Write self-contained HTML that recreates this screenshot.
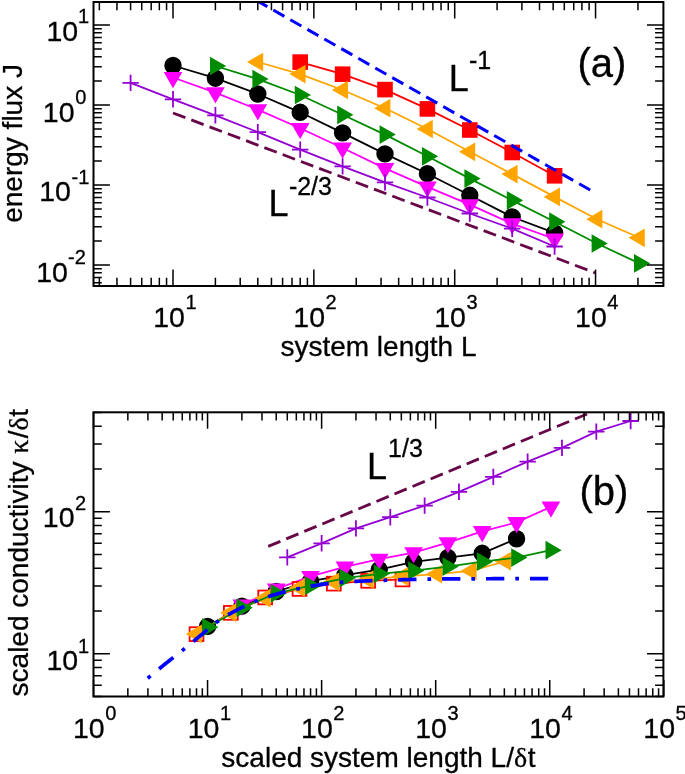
<!DOCTYPE html>
<html><head><meta charset="utf-8"><title>Energy flux and scaled conductivity</title>
<style>html,body{margin:0;padding:0;background:#fff}svg{display:block}text{font-family:"Liberation Sans",sans-serif;fill:#000;stroke:#000;stroke-width:0.3px}.sy{font-family:"Liberation Serif",serif}</style></head>
<body>
<svg width="685" height="774" viewBox="0 0 685 774">
<rect width="685" height="774" fill="#fff"/>
<defs><clipPath id="ca"><rect x="93.5" y="2" width="569.9" height="284"/></clipPath><clipPath id="cb"><rect x="93.5" y="412.3" width="569.9" height="284.2"/></clipPath></defs>
<g clip-path="url(#ca)">
<polyline points="173,65.5 215.4,78.2 257.8,94 300.2,112.3 342.6,132.9 385,153.9 427.4,173.7 469.8,195.3 512.2,217 554.6,232.9" fill="none" stroke="#000" stroke-width="1.8"/><circle cx="173" cy="65.5" r="7.8" fill="#000" stroke="#000" stroke-width="1.8"/><circle cx="215.4" cy="78.2" r="7.8" fill="#000" stroke="#000" stroke-width="1.8"/><circle cx="257.8" cy="94" r="7.8" fill="#000" stroke="#000" stroke-width="1.8"/><circle cx="300.2" cy="112.3" r="7.8" fill="#000" stroke="#000" stroke-width="1.8"/><circle cx="342.6" cy="132.9" r="7.8" fill="#000" stroke="#000" stroke-width="1.8"/><circle cx="385" cy="153.9" r="7.8" fill="#000" stroke="#000" stroke-width="1.8"/><circle cx="427.4" cy="173.7" r="7.8" fill="#000" stroke="#000" stroke-width="1.8"/><circle cx="469.8" cy="195.3" r="7.8" fill="#000" stroke="#000" stroke-width="1.8"/><circle cx="512.2" cy="217" r="7.8" fill="#000" stroke="#000" stroke-width="1.8"/><circle cx="554.6" cy="232.9" r="7.8" fill="#000" stroke="#000" stroke-width="1.8"/>
<polyline points="173,77.5 215.4,92.6 257.8,109.6 300.2,128.3 342.6,148 385,168.4 427.4,186.9 469.8,204.7 512.2,223.7 554.6,239" fill="none" stroke="#ff00ff" stroke-width="1.8"/><polygon points="173,86.51 165.2,73 180.8,73" fill="#ff00ff" stroke="#ff00ff" stroke-width="1.8"/><polygon points="215.4,101.61 207.6,88.1 223.2,88.1" fill="#ff00ff" stroke="#ff00ff" stroke-width="1.8"/><polygon points="257.8,118.61 250,105.1 265.6,105.1" fill="#ff00ff" stroke="#ff00ff" stroke-width="1.8"/><polygon points="300.2,137.31 292.4,123.8 308,123.8" fill="#ff00ff" stroke="#ff00ff" stroke-width="1.8"/><polygon points="342.6,157.01 334.8,143.5 350.4,143.5" fill="#ff00ff" stroke="#ff00ff" stroke-width="1.8"/><polygon points="385,177.41 377.2,163.9 392.8,163.9" fill="#ff00ff" stroke="#ff00ff" stroke-width="1.8"/><polygon points="427.4,195.91 419.6,182.4 435.2,182.4" fill="#ff00ff" stroke="#ff00ff" stroke-width="1.8"/><polygon points="469.8,213.71 462,200.2 477.6,200.2" fill="#ff00ff" stroke="#ff00ff" stroke-width="1.8"/><polygon points="512.2,232.71 504.4,219.2 520,219.2" fill="#ff00ff" stroke="#ff00ff" stroke-width="1.8"/><polygon points="554.6,248.01 546.8,234.5 562.4,234.5" fill="#ff00ff" stroke="#ff00ff" stroke-width="1.8"/>
<polyline points="130.6,82.9 173,99.3 215.4,115.3 257.8,132.1 300.2,149.6 342.6,166.4 385,182.4 427.4,197.5 469.8,213.5 512.2,228.7 554.6,246.5" fill="none" stroke="#9400d3" stroke-width="1.8"/><path d="M122.4 82.9H138.8M130.6 74.7V91.1" fill="none" stroke="#9400d3" stroke-width="1.8"/><path d="M164.8 99.3H181.2M173 91.1V107.5" fill="none" stroke="#9400d3" stroke-width="1.8"/><path d="M207.2 115.3H223.6M215.4 107.1V123.5" fill="none" stroke="#9400d3" stroke-width="1.8"/><path d="M249.6 132.1H266M257.8 123.9V140.3" fill="none" stroke="#9400d3" stroke-width="1.8"/><path d="M292 149.6H308.4M300.2 141.4V157.8" fill="none" stroke="#9400d3" stroke-width="1.8"/><path d="M334.4 166.4H350.8M342.6 158.2V174.6" fill="none" stroke="#9400d3" stroke-width="1.8"/><path d="M376.8 182.4H393.2M385 174.2V190.6" fill="none" stroke="#9400d3" stroke-width="1.8"/><path d="M419.2 197.5H435.6M427.4 189.3V205.7" fill="none" stroke="#9400d3" stroke-width="1.8"/><path d="M461.6 213.5H478M469.8 205.3V221.7" fill="none" stroke="#9400d3" stroke-width="1.8"/><path d="M504 228.7H520.4M512.2 220.5V236.9" fill="none" stroke="#9400d3" stroke-width="1.8"/><path d="M546.4 246.5H562.8M554.6 238.3V254.7" fill="none" stroke="#9400d3" stroke-width="1.8"/>
<polyline points="300.2,62.1 342.6,74.2 385,89.6 427.4,108.9 469.8,130 512.2,152.5 554.6,175.8" fill="none" stroke="#ff0000" stroke-width="1.8"/><rect x="293.3" y="55.2" width="13.8" height="13.8" fill="#ff0000" stroke="#ff0000" stroke-width="1.8"/><rect x="335.7" y="67.3" width="13.8" height="13.8" fill="#ff0000" stroke="#ff0000" stroke-width="1.8"/><rect x="378.1" y="82.7" width="13.8" height="13.8" fill="#ff0000" stroke="#ff0000" stroke-width="1.8"/><rect x="420.5" y="102" width="13.8" height="13.8" fill="#ff0000" stroke="#ff0000" stroke-width="1.8"/><rect x="462.9" y="123.1" width="13.8" height="13.8" fill="#ff0000" stroke="#ff0000" stroke-width="1.8"/><rect x="505.3" y="145.6" width="13.8" height="13.8" fill="#ff0000" stroke="#ff0000" stroke-width="1.8"/><rect x="547.7" y="168.9" width="13.8" height="13.8" fill="#ff0000" stroke="#ff0000" stroke-width="1.8"/>
<polyline points="257.8,62 300.2,74.1 342.6,90 385,108.2 427.4,129 469.8,151.8 512.2,174.1 554.6,196.9 597,219.2 639.4,237.8" fill="none" stroke="#ffa500" stroke-width="1.8"/><polygon points="248.79,62 262.3,54.2 262.3,69.8" fill="#ffa500" stroke="#ffa500" stroke-width="1.8"/><polygon points="291.19,74.1 304.7,66.3 304.7,81.9" fill="#ffa500" stroke="#ffa500" stroke-width="1.8"/><polygon points="333.59,90 347.1,82.2 347.1,97.8" fill="#ffa500" stroke="#ffa500" stroke-width="1.8"/><polygon points="375.99,108.2 389.5,100.4 389.5,116" fill="#ffa500" stroke="#ffa500" stroke-width="1.8"/><polygon points="418.39,129 431.9,121.2 431.9,136.8" fill="#ffa500" stroke="#ffa500" stroke-width="1.8"/><polygon points="460.79,151.8 474.3,144 474.3,159.6" fill="#ffa500" stroke="#ffa500" stroke-width="1.8"/><polygon points="503.19,174.1 516.7,166.3 516.7,181.9" fill="#ffa500" stroke="#ffa500" stroke-width="1.8"/><polygon points="545.59,196.9 559.1,189.1 559.1,204.7" fill="#ffa500" stroke="#ffa500" stroke-width="1.8"/><polygon points="587.99,219.2 601.5,211.4 601.5,227" fill="#ffa500" stroke="#ffa500" stroke-width="1.8"/><polygon points="630.39,237.8 643.9,230 643.9,245.6" fill="#ffa500" stroke="#ffa500" stroke-width="1.8"/>
<polyline points="215.4,66 257.8,79.1 300.2,95 342.6,114.8 385,134.6 427.4,156.3 469.8,178.6 512.2,200.4 554.6,221.7 597,243.5 639.4,263.4" fill="none" stroke="#008b00" stroke-width="1.8"/><polygon points="224.41,66 210.9,58.2 210.9,73.8" fill="#008b00" stroke="#008b00" stroke-width="1.8"/><polygon points="266.81,79.1 253.3,71.3 253.3,86.9" fill="#008b00" stroke="#008b00" stroke-width="1.8"/><polygon points="309.21,95 295.7,87.2 295.7,102.8" fill="#008b00" stroke="#008b00" stroke-width="1.8"/><polygon points="351.61,114.8 338.1,107 338.1,122.6" fill="#008b00" stroke="#008b00" stroke-width="1.8"/><polygon points="394.01,134.6 380.5,126.8 380.5,142.4" fill="#008b00" stroke="#008b00" stroke-width="1.8"/><polygon points="436.41,156.3 422.9,148.5 422.9,164.1" fill="#008b00" stroke="#008b00" stroke-width="1.8"/><polygon points="478.81,178.6 465.3,170.8 465.3,186.4" fill="#008b00" stroke="#008b00" stroke-width="1.8"/><polygon points="521.21,200.4 507.7,192.6 507.7,208.2" fill="#008b00" stroke="#008b00" stroke-width="1.8"/><polygon points="563.61,221.7 550.1,213.9 550.1,229.5" fill="#008b00" stroke="#008b00" stroke-width="1.8"/><polygon points="606.01,243.5 592.5,235.7 592.5,251.3" fill="#008b00" stroke="#008b00" stroke-width="1.8"/><polygon points="648.41,263.4 634.9,255.6 634.9,271.2" fill="#008b00" stroke="#008b00" stroke-width="1.8"/>
<path d="M590.2 190.03L250 -3.2" stroke="#0000ff" stroke-width="3.0" stroke-dasharray="12.7 6.84" fill="none"/>
<path d="M173 113L595.6 273.02" stroke="#670748" stroke-width="2.8" stroke-dasharray="13.2 6.34" fill="none"/>
</g>
<path d="M99.35 286v-8.3M99.35 2v8.3M116.95 286v-8.3M116.95 2v8.3M130.6 286v-8.3M130.6 2v8.3M141.75 286v-8.3M141.75 2v8.3M151.18 286v-8.3M151.18 2v8.3M159.35 286v-8.3M159.35 2v8.3M166.56 286v-8.3M166.56 2v8.3M173 286v-16.4M173 2v16.4M215.4 286v-8.3M215.4 2v8.3M240.2 286v-8.3M240.2 2v8.3M257.8 286v-8.3M257.8 2v8.3M271.45 286v-8.3M271.45 2v8.3M282.6 286v-8.3M282.6 2v8.3M292.03 286v-8.3M292.03 2v8.3M300.2 286v-8.3M300.2 2v8.3M307.41 286v-8.3M307.41 2v8.3M313.85 286v-16.4M313.85 2v16.4M356.25 286v-8.3M356.25 2v8.3M381.05 286v-8.3M381.05 2v8.3M398.65 286v-8.3M398.65 2v8.3M412.3 286v-8.3M412.3 2v8.3M423.45 286v-8.3M423.45 2v8.3M432.88 286v-8.3M432.88 2v8.3M441.05 286v-8.3M441.05 2v8.3M448.26 286v-8.3M448.26 2v8.3M454.7 286v-16.4M454.7 2v16.4M497.1 286v-8.3M497.1 2v8.3M521.9 286v-8.3M521.9 2v8.3M539.5 286v-8.3M539.5 2v8.3M553.15 286v-8.3M553.15 2v8.3M564.3 286v-8.3M564.3 2v8.3M573.73 286v-8.3M573.73 2v8.3M581.9 286v-8.3M581.9 2v8.3M589.11 286v-8.3M589.11 2v8.3M595.55 286v-16.4M595.55 2v16.4M637.95 286v-8.3M637.95 2v8.3M93.5 282.75h8.3M663.4 282.75h-8.3M93.5 277.39h8.3M663.4 277.39h-8.3M93.5 272.75h8.3M663.4 272.75h-8.3M93.5 268.66h8.3M663.4 268.66h-8.3M93.5 265h16.4M663.4 265h-16.4M93.5 240.92h8.3M663.4 240.92h-8.3M93.5 226.83h8.3M663.4 226.83h-8.3M93.5 216.84h8.3M663.4 216.84h-8.3M93.5 209.08h8.3M663.4 209.08h-8.3M93.5 202.75h8.3M663.4 202.75h-8.3M93.5 197.39h8.3M663.4 197.39h-8.3M93.5 192.75h8.3M663.4 192.75h-8.3M93.5 188.66h8.3M663.4 188.66h-8.3M93.5 185h16.4M663.4 185h-16.4M93.5 160.92h8.3M663.4 160.92h-8.3M93.5 146.83h8.3M663.4 146.83h-8.3M93.5 136.84h8.3M663.4 136.84h-8.3M93.5 129.08h8.3M663.4 129.08h-8.3M93.5 122.75h8.3M663.4 122.75h-8.3M93.5 117.39h8.3M663.4 117.39h-8.3M93.5 112.75h8.3M663.4 112.75h-8.3M93.5 108.66h8.3M663.4 108.66h-8.3M93.5 105h16.4M663.4 105h-16.4M93.5 80.92h8.3M663.4 80.92h-8.3M93.5 66.83h8.3M663.4 66.83h-8.3M93.5 56.84h8.3M663.4 56.84h-8.3M93.5 49.08h8.3M663.4 49.08h-8.3M93.5 42.75h8.3M663.4 42.75h-8.3M93.5 37.39h8.3M663.4 37.39h-8.3M93.5 32.75h8.3M663.4 32.75h-8.3M93.5 28.66h8.3M663.4 28.66h-8.3M93.5 25h16.4M663.4 25h-16.4" stroke="#000" stroke-width="1.5" fill="none"/>
<rect x="93.5" y="2" width="569.9" height="284" fill="none" stroke="#000" stroke-width="2"/>
<text x="153.2" y="327" font-size="28.5">10<tspan x="185.4" y="309.2" font-size="20">1</tspan></text>
<text x="293.35" y="327" font-size="28.5">10<tspan x="325.55" y="309.2" font-size="20">2</tspan></text>
<text x="434.2" y="327" font-size="28.5">10<tspan x="466.4" y="309.2" font-size="20">3</tspan></text>
<text x="575.05" y="327" font-size="28.5">10<tspan x="607.25" y="309.2" font-size="20">4</tspan></text>
<text x="46.4" y="41" font-size="28.5">10<tspan x="78.1" y="23.2" font-size="20">1</tspan></text>
<text x="42.8" y="121.5" font-size="28.5">10<tspan x="75.2" y="103.7" font-size="20">0</tspan></text>
<text x="39.2" y="201.3" font-size="28.5">10<tspan x="71.6" y="183.5" font-size="20">-1</tspan></text>
<text x="36.2" y="282" font-size="28.5">10<tspan x="68.1" y="264.2" font-size="20">-2</tspan></text>
<text x="378.45" y="355.5" font-size="28" text-anchor="middle">system length L</text>
<text transform="translate(21.5 143.4) rotate(-90)" font-size="28" text-anchor="middle">energy flux J</text>
<text x="448.7" y="90.6" font-size="36">L<tspan x="469" y="68.7" font-size="25">-1</tspan></text>
<text x="268.4" y="216.2" font-size="36">L<tspan x="288.9" y="194.6" font-size="25">-2/3</tspan></text>
<text x="577.5" y="77.2" font-size="40">(a)</text>
<g clip-path="url(#cb)">
<polyline points="207.56,626.41 241.9,606.2 276.23,591.48 310.57,581.21 344.9,575.03 379.24,569.55 413.57,561.95 447.91,557.54 482.24,553.31 516.58,538.77" fill="none" stroke="#000" stroke-width="1.8"/><circle cx="207.56" cy="626.41" r="7.8" fill="#000" stroke="#000" stroke-width="1.8"/><circle cx="241.9" cy="606.2" r="7.8" fill="#000" stroke="#000" stroke-width="1.8"/><circle cx="276.23" cy="591.48" r="7.8" fill="#000" stroke="#000" stroke-width="1.8"/><circle cx="310.57" cy="581.21" r="7.8" fill="#000" stroke="#000" stroke-width="1.8"/><circle cx="344.9" cy="575.03" r="7.8" fill="#000" stroke="#000" stroke-width="1.8"/><circle cx="379.24" cy="569.55" r="7.8" fill="#000" stroke="#000" stroke-width="1.8"/><circle cx="413.57" cy="561.95" r="7.8" fill="#000" stroke="#000" stroke-width="1.8"/><circle cx="447.91" cy="557.54" r="7.8" fill="#000" stroke="#000" stroke-width="1.8"/><circle cx="482.24" cy="553.31" r="7.8" fill="#000" stroke="#000" stroke-width="1.8"/><circle cx="516.58" cy="538.77" r="7.8" fill="#000" stroke="#000" stroke-width="1.8"/>
<polyline points="241.9,604.95 276.23,589 310.57,576.42 344.9,566.86 379.24,559.07 413.57,552.53 447.91,542.62 482.24,531.46 516.58,522.43 550.91,506.83" fill="none" stroke="#ff00ff" stroke-width="1.8"/><polygon points="241.9,613.96 234.1,600.45 249.7,600.45" fill="#ff00ff" stroke="#ff00ff" stroke-width="1.8"/><polygon points="276.23,598 268.43,584.49 284.03,584.49" fill="#ff00ff" stroke="#ff00ff" stroke-width="1.8"/><polygon points="310.57,585.42 302.77,571.91 318.37,571.91" fill="#ff00ff" stroke="#ff00ff" stroke-width="1.8"/><polygon points="344.9,575.86 337.1,562.35 352.7,562.35" fill="#ff00ff" stroke="#ff00ff" stroke-width="1.8"/><polygon points="379.24,568.08 371.44,554.57 387.04,554.57" fill="#ff00ff" stroke="#ff00ff" stroke-width="1.8"/><polygon points="413.57,561.54 405.77,548.03 421.37,548.03" fill="#ff00ff" stroke="#ff00ff" stroke-width="1.8"/><polygon points="447.91,551.62 440.11,538.11 455.71,538.11" fill="#ff00ff" stroke="#ff00ff" stroke-width="1.8"/><polygon points="482.24,540.46 474.44,526.95 490.04,526.95" fill="#ff00ff" stroke="#ff00ff" stroke-width="1.8"/><polygon points="516.58,531.44 508.78,517.93 524.38,517.93" fill="#ff00ff" stroke="#ff00ff" stroke-width="1.8"/><polygon points="550.91,515.84 543.11,502.33 558.71,502.33" fill="#ff00ff" stroke="#ff00ff" stroke-width="1.8"/>
<polyline points="287.28,557.4 321.62,543.3 355.96,528.4 390.29,517.2 424.63,505.6 458.96,491.8 493.3,476.9 527.63,461.6 561.97,447.9 596.3,431.6 630.64,421" fill="none" stroke="#9400d3" stroke-width="1.8"/><path d="M279.08 557.4H295.48M287.28 549.2V565.6" fill="none" stroke="#9400d3" stroke-width="1.8"/><path d="M313.42 543.3H329.82M321.62 535.1V551.5" fill="none" stroke="#9400d3" stroke-width="1.8"/><path d="M347.76 528.4H364.16M355.96 520.2V536.6" fill="none" stroke="#9400d3" stroke-width="1.8"/><path d="M382.09 517.2H398.49M390.29 509V525.4" fill="none" stroke="#9400d3" stroke-width="1.8"/><path d="M416.43 505.6H432.83M424.63 497.4V513.8" fill="none" stroke="#9400d3" stroke-width="1.8"/><path d="M450.76 491.8H467.16M458.96 483.6V500" fill="none" stroke="#9400d3" stroke-width="1.8"/><path d="M485.1 476.9H501.5M493.3 468.7V485.1" fill="none" stroke="#9400d3" stroke-width="1.8"/><path d="M519.43 461.6H535.83M527.63 453.4V469.8" fill="none" stroke="#9400d3" stroke-width="1.8"/><path d="M553.77 447.9H570.17M561.97 439.7V456.1" fill="none" stroke="#9400d3" stroke-width="1.8"/><path d="M588.1 431.6H604.5M596.3 423.4V439.8" fill="none" stroke="#9400d3" stroke-width="1.8"/><path d="M622.44 421H638.84M630.64 412.8V429.2" fill="none" stroke="#9400d3" stroke-width="1.8"/>
<polyline points="196.51,634.15 230.84,612.86 265.18,597.44 299.51,588.95 333.85,583.65 368.18,580.84 402.52,579.45" fill="none" stroke="#ff0000" stroke-width="1.8"/><rect x="189.61" y="627.25" width="13.8" height="13.8" fill="none" stroke="#ff0000" stroke-width="1.8"/><rect x="223.94" y="605.96" width="13.8" height="13.8" fill="none" stroke="#ff0000" stroke-width="1.8"/><rect x="258.28" y="590.54" width="13.8" height="13.8" fill="none" stroke="#ff0000" stroke-width="1.8"/><rect x="292.61" y="582.05" width="13.8" height="13.8" fill="none" stroke="#ff0000" stroke-width="1.8"/><rect x="326.95" y="576.75" width="13.8" height="13.8" fill="none" stroke="#ff0000" stroke-width="1.8"/><rect x="361.28" y="573.94" width="13.8" height="13.8" fill="none" stroke="#ff0000" stroke-width="1.8"/><rect x="395.62" y="572.55" width="13.8" height="13.8" fill="none" stroke="#ff0000" stroke-width="1.8"/>
<polyline points="196.51,633.97 230.84,612.68 265.18,598.15 299.51,587.7 333.85,581.87 368.18,579.59 402.52,576.43 436.85,574.15 471.19,570.98 505.53,561.25" fill="none" stroke="#ffa500" stroke-width="1.8"/><polygon points="187.5,633.97 201.01,626.17 201.01,641.77" fill="#ffa500" stroke="#ffa500" stroke-width="1.8"/><polygon points="221.84,612.68 235.35,604.88 235.35,620.48" fill="#ffa500" stroke="#ffa500" stroke-width="1.8"/><polygon points="256.17,598.15 269.68,590.35 269.68,605.95" fill="#ffa500" stroke="#ffa500" stroke-width="1.8"/><polygon points="290.51,587.7 304.02,579.9 304.02,595.5" fill="#ffa500" stroke="#ffa500" stroke-width="1.8"/><polygon points="324.84,581.87 338.35,574.07 338.35,589.67" fill="#ffa500" stroke="#ffa500" stroke-width="1.8"/><polygon points="359.18,579.59 372.69,571.79 372.69,587.39" fill="#ffa500" stroke="#ffa500" stroke-width="1.8"/><polygon points="393.51,576.43 407.02,568.63 407.02,584.23" fill="#ffa500" stroke="#ffa500" stroke-width="1.8"/><polygon points="427.85,574.15 441.36,566.35 441.36,581.95" fill="#ffa500" stroke="#ffa500" stroke-width="1.8"/><polygon points="462.18,570.98 475.69,563.18 475.69,578.78" fill="#ffa500" stroke="#ffa500" stroke-width="1.8"/><polygon points="496.52,561.25 510.03,553.45 510.03,569.05" fill="#ffa500" stroke="#ffa500" stroke-width="1.8"/>
<polyline points="207.56,627.3 241.9,607.8 276.23,593.26 310.57,585.65 344.9,578.05 379.24,573.82 413.57,570.65 447.91,566.6 482.24,561.65 516.58,557.6 550.91,550.17" fill="none" stroke="#008b00" stroke-width="1.8"/><polygon points="216.57,627.3 203.06,619.5 203.06,635.1" fill="#008b00" stroke="#008b00" stroke-width="1.8"/><polygon points="250.9,607.8 237.39,600 237.39,615.6" fill="#008b00" stroke="#008b00" stroke-width="1.8"/><polygon points="285.24,593.26 271.73,585.46 271.73,601.06" fill="#008b00" stroke="#008b00" stroke-width="1.8"/><polygon points="319.57,585.65 306.06,577.85 306.06,593.45" fill="#008b00" stroke="#008b00" stroke-width="1.8"/><polygon points="353.91,578.05 340.4,570.25 340.4,585.85" fill="#008b00" stroke="#008b00" stroke-width="1.8"/><polygon points="388.24,573.82 374.73,566.02 374.73,581.62" fill="#008b00" stroke="#008b00" stroke-width="1.8"/><polygon points="422.58,570.65 409.07,562.85 409.07,578.45" fill="#008b00" stroke="#008b00" stroke-width="1.8"/><polygon points="456.92,566.6 443.41,558.8 443.41,574.4" fill="#008b00" stroke="#008b00" stroke-width="1.8"/><polygon points="491.25,561.65 477.74,553.85 477.74,569.45" fill="#008b00" stroke="#008b00" stroke-width="1.8"/><polygon points="525.59,557.6 512.08,549.8 512.08,565.4" fill="#008b00" stroke="#008b00" stroke-width="1.8"/><polygon points="559.92,550.17 546.41,542.37 546.41,557.97" fill="#008b00" stroke="#008b00" stroke-width="1.8"/>
<path d="M268.2 546.4L587.2 413.93" stroke="#670748" stroke-width="2.8" stroke-dasharray="13.2 6.34" fill="none"/>
<polyline points="147.7,678.2 148.59,677.48 149.7,676.57 151.01,675.49 152.48,674.29 154.07,672.99 155.76,671.61 157.51,670.18 159.29,668.73 161.06,667.29 162.79,665.89 164.45,664.55 166,663.3 167.48,662.12 168.96,660.95 170.42,659.8 171.88,658.66 173.33,657.53 174.78,656.4 176.22,655.28 177.66,654.15 179.09,653.02 180.53,651.89 181.96,650.75 183.4,649.6 184.84,648.44 186.27,647.27 187.7,646.1 189.12,644.93 190.55,643.75 191.97,642.57 193.39,641.39 194.81,640.21 196.23,639.03 197.65,637.85 199.08,636.67 200.5,635.5 201.92,634.32 203.33,633.13 204.74,631.92 206.15,630.71 207.56,629.51 208.97,628.31 210.38,627.12 211.8,625.94 213.23,624.79 214.67,623.66 216.13,622.56 217.6,621.5 219.08,620.47 220.57,619.48 222.06,618.51 223.56,617.56 225.07,616.63 226.59,615.73 228.12,614.83 229.66,613.95 231.22,613.08 232.8,612.22 234.39,611.36 236,610.5 237.63,609.64 239.3,608.79 240.98,607.94 242.68,607.1 244.39,606.26 246.12,605.44 247.85,604.64 249.59,603.85 251.33,603.08 253.06,602.33 254.78,601.6 256.5,600.9 258.21,600.23 259.91,599.58 261.6,598.95 263.3,598.34 265,597.75 266.69,597.18 268.39,596.62 270.1,596.08 271.81,595.55 273.53,595.03 275.26,594.51 277,594 278.75,593.5 280.51,593.01 282.28,592.53 284.06,592.07 285.84,591.61 287.63,591.17 289.42,590.74 291.22,590.31 293.01,589.9 294.81,589.49 296.61,589.09 298.4,588.7 300.19,588.32 301.98,587.94 303.77,587.57 305.57,587.21 307.36,586.87 309.16,586.53 310.95,586.19 312.76,585.87 314.56,585.56 316.37,585.26 318.18,584.98 320,584.7 321.82,584.44 323.66,584.18 325.49,583.94 327.34,583.71 329.18,583.49 331.03,583.28 332.88,583.07 334.73,582.88 336.58,582.7 338.42,582.52 340.26,582.36 342.1,582.2 343.93,582.05 345.76,581.92 347.59,581.8 349.41,581.69 351.23,581.59 353.06,581.49 354.88,581.41 356.7,581.32 358.52,581.24 360.35,581.16 362.17,581.08 364,581 365.76,580.92 367.41,580.85 368.99,580.78 370.54,580.71 372.08,580.65 373.66,580.59 375.32,580.53 377.09,580.47 379,580.41 381.1,580.35 383.42,580.28 386,580.2 388.87,580.12 392.01,580.02 395.39,579.93 398.95,579.83 402.66,579.72 406.48,579.62 410.36,579.52 414.27,579.42 418.16,579.33 421.99,579.24 425.71,579.16 429.3,579.1 432.78,579.05 436.24,579 439.67,578.96 443.09,578.93 446.48,578.91 449.86,578.89 453.22,578.87 456.58,578.86 459.94,578.84 463.29,578.83 466.64,578.82 470,578.8 473.36,578.78 476.7,578.77 480.04,578.76 483.37,578.75 486.69,578.74 490.01,578.73 493.33,578.72 496.66,578.72 499.98,578.71 503.31,578.71 506.65,578.7 510,578.7 513.49,578.7 517.19,578.69 521.04,578.69 524.96,578.69 528.89,578.69 532.75,578.69 536.47,578.69 539.98,578.7 543.21,578.7 546.09,578.7 548.54,578.7 550.5,578.7" fill="none" stroke="#0000ff" stroke-width="3.7" stroke-dasharray="3.66 10.98 18.3 10.98"/>
</g>
<path d="M93.5 696.5v-16.4M93.5 412.3v16.4M127.84 696.5v-8.3M127.84 412.3v8.3M147.92 696.5v-8.3M147.92 412.3v8.3M162.17 696.5v-8.3M162.17 412.3v8.3M173.22 696.5v-8.3M173.22 412.3v8.3M182.26 696.5v-8.3M182.26 412.3v8.3M189.89 696.5v-8.3M189.89 412.3v8.3M196.51 696.5v-8.3M196.51 412.3v8.3M202.34 696.5v-8.3M202.34 412.3v8.3M207.56 696.5v-16.4M207.56 412.3v16.4M241.9 696.5v-8.3M241.9 412.3v8.3M261.98 696.5v-8.3M261.98 412.3v8.3M276.23 696.5v-8.3M276.23 412.3v8.3M287.28 696.5v-8.3M287.28 412.3v8.3M296.32 696.5v-8.3M296.32 412.3v8.3M303.95 696.5v-8.3M303.95 412.3v8.3M310.57 696.5v-8.3M310.57 412.3v8.3M316.4 696.5v-8.3M316.4 412.3v8.3M321.62 696.5v-16.4M321.62 412.3v16.4M355.96 696.5v-8.3M355.96 412.3v8.3M376.04 696.5v-8.3M376.04 412.3v8.3M390.29 696.5v-8.3M390.29 412.3v8.3M401.34 696.5v-8.3M401.34 412.3v8.3M410.38 696.5v-8.3M410.38 412.3v8.3M418.01 696.5v-8.3M418.01 412.3v8.3M424.63 696.5v-8.3M424.63 412.3v8.3M430.46 696.5v-8.3M430.46 412.3v8.3M435.68 696.5v-16.4M435.68 412.3v16.4M470.02 696.5v-8.3M470.02 412.3v8.3M490.1 696.5v-8.3M490.1 412.3v8.3M504.35 696.5v-8.3M504.35 412.3v8.3M515.4 696.5v-8.3M515.4 412.3v8.3M524.44 696.5v-8.3M524.44 412.3v8.3M532.07 696.5v-8.3M532.07 412.3v8.3M538.69 696.5v-8.3M538.69 412.3v8.3M544.52 696.5v-8.3M544.52 412.3v8.3M549.74 696.5v-16.4M549.74 412.3v16.4M584.08 696.5v-8.3M584.08 412.3v8.3M604.16 696.5v-8.3M604.16 412.3v8.3M618.41 696.5v-8.3M618.41 412.3v8.3M629.46 696.5v-8.3M629.46 412.3v8.3M638.5 696.5v-8.3M638.5 412.3v8.3M646.13 696.5v-8.3M646.13 412.3v8.3M652.75 696.5v-8.3M652.75 412.3v8.3M658.58 696.5v-8.3M658.58 412.3v8.3M663.8 696.5v-16.4M663.8 412.3v16.4M93.5 696.58h8.3M663.4 696.58h-8.3M93.5 685.32h8.3M663.4 685.32h-8.3M93.5 675.81h8.3M663.4 675.81h-8.3M93.5 667.57h8.3M663.4 667.57h-8.3M93.5 660.3h8.3M663.4 660.3h-8.3M93.5 653.8h16.4M663.4 653.8h-16.4M93.5 611.02h8.3M663.4 611.02h-8.3M93.5 586h8.3M663.4 586h-8.3M93.5 568.25h8.3M663.4 568.25h-8.3M93.5 554.48h8.3M663.4 554.48h-8.3M93.5 543.22h8.3M663.4 543.22h-8.3M93.5 533.71h8.3M663.4 533.71h-8.3M93.5 525.47h8.3M663.4 525.47h-8.3M93.5 518.2h8.3M663.4 518.2h-8.3M93.5 511.7h16.4M663.4 511.7h-16.4M93.5 468.92h8.3M663.4 468.92h-8.3M93.5 443.9h8.3M663.4 443.9h-8.3M93.5 426.15h8.3M663.4 426.15h-8.3M93.5 412.38h8.3M663.4 412.38h-8.3" stroke="#000" stroke-width="1.5" fill="none"/>
<rect x="93.5" y="412.3" width="569.9" height="284.2" fill="none" stroke="#000" stroke-width="2"/>
<text x="73" y="738" font-size="28.5">10<tspan x="105.2" y="720.2" font-size="20">0</tspan></text>
<text x="187.76" y="738" font-size="28.5">10<tspan x="219.96" y="720.2" font-size="20">1</tspan></text>
<text x="301.12" y="738" font-size="28.5">10<tspan x="333.32" y="720.2" font-size="20">2</tspan></text>
<text x="415.18" y="738" font-size="28.5">10<tspan x="447.38" y="720.2" font-size="20">3</tspan></text>
<text x="529.24" y="738" font-size="28.5">10<tspan x="561.44" y="720.2" font-size="20">4</tspan></text>
<text x="643.3" y="738" font-size="28.5">10<tspan x="675.5" y="720.2" font-size="20">5</tspan></text>
<text x="46.4" y="670.4" font-size="28.5">10<tspan x="78.1" y="652.6" font-size="20">1</tspan></text>
<text x="42.8" y="527.3" font-size="28.5">10<tspan x="75" y="509.5" font-size="20">2</tspan></text>
<text x="378.45" y="766.5" font-size="28" text-anchor="middle">scaled system length L/<tspan class="sy">δ</tspan><tspan dx="0.6">t</tspan></text>
<text transform="translate(28.1 552.7) rotate(-90)" font-size="28" text-anchor="middle">scaled conductivity <tspan class="sy">κ</tspan><tspan dx="1.2">/</tspan><tspan class="sy">δ</tspan><tspan dx="0.6">t</tspan></text>
<text x="366.9" y="478.6" font-size="36">L<tspan x="388.1" y="457.3" font-size="25">1/3</tspan></text>
<text x="579.5" y="505.1" font-size="40">(b)</text>
</svg>
</body></html>
